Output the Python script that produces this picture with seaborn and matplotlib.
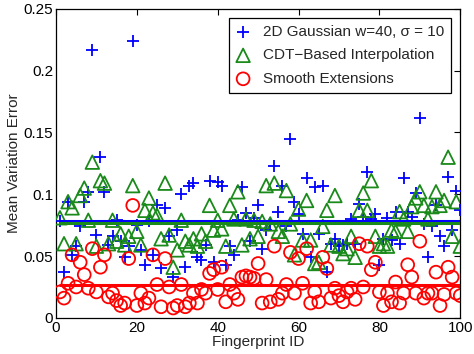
import numpy as np
import pandas as pd
import matplotlib
matplotlib.use("Agg")
import matplotlib.pyplot as plt
import seaborn as sns
from matplotlib.ticker import FuncFormatter

# Fingerprint IDs 1..100
fingerprint_id = list(range(1, 101))

gaussian_err = [
    0.078, 0.037, 0.094, 0.051, 0.058, 0.074, 0.094, 0.102, 0.217, 0.067,
    0.130, 0.102, 0.059, 0.066, 0.079, 0.062, 0.049, 0.058, 0.224, 0.075,
    0.055, 0.043, 0.078, 0.051, 0.091, 0.040, 0.089, 0.066, 0.033, 0.071,
    0.100, 0.041, 0.107, 0.109, 0.049, 0.047, 0.059, 0.111, 0.045, 0.110,
    0.107, 0.043, 0.058, 0.051, 0.079, 0.106, 0.085, 0.062, 0.081, 0.091,
    0.056, 0.071, 0.076, 0.123, 0.086, 0.107, 0.074, 0.145, 0.094, 0.084,
    0.068, 0.113, 0.049, 0.106, 0.068, 0.107, 0.037, 0.060, 0.064, 0.058,
    0.059, 0.060, 0.080, 0.060, 0.092, 0.082, 0.118, 0.080, 0.084, 0.043,
    0.064, 0.081, 0.063, 0.086, 0.060, 0.113, 0.086, 0.082, 0.101, 0.162,
    0.076, 0.049, 0.074, 0.091, 0.066, 0.058, 0.114, 0.071, 0.103, 0.087,
]

cdt_err = [
    0.081, 0.060, 0.094, 0.089, 0.060, 0.099, 0.105, 0.079, 0.126, 0.058,
    0.111, 0.109, 0.060, 0.079, 0.062, 0.068, 0.059, 0.066, 0.107, 0.070,
    0.059, 0.087, 0.097, 0.085, 0.083, 0.064, 0.109, 0.067, 0.041, 0.055,
    0.079, 0.062, 0.059, 0.064, 0.058, 0.068, 0.062, 0.091, 0.071, 0.079,
    0.072, 0.058, 0.091, 0.080, 0.102, 0.059, 0.080, 0.064, 0.079, 0.066,
    0.078, 0.107, 0.076, 0.109, 0.070, 0.066, 0.103, 0.076, 0.051, 0.088,
    0.063, 0.095, 0.063, 0.044, 0.045, 0.074, 0.087, 0.059, 0.099, 0.058,
    0.052, 0.056, 0.066, 0.049, 0.087, 0.101, 0.087, 0.111, 0.066, 0.058,
    0.060, 0.058, 0.071, 0.070, 0.086, 0.080, 0.070, 0.090, 0.097, 0.102,
    0.091, 0.080, 0.090, 0.102, 0.091, 0.095, 0.130, 0.066, 0.094, 0.058,
]

smooth_err = [
    0.021, 0.016, 0.028, 0.051, 0.025, 0.045, 0.035, 0.024, 0.056, 0.021,
    0.041, 0.051, 0.017, 0.020, 0.014, 0.010, 0.012, 0.048, 0.091, 0.010,
    0.020, 0.012, 0.016, 0.051, 0.027, 0.009, 0.048, 0.025, 0.008, 0.010,
    0.027, 0.009, 0.012, 0.020, 0.012, 0.023, 0.020, 0.036, 0.039, 0.023,
    0.041, 0.013, 0.027, 0.020, 0.015, 0.033, 0.034, 0.033, 0.032, 0.044,
    0.012, 0.031, 0.013, 0.058, 0.015, 0.020, 0.027, 0.053, 0.020, 0.048,
    0.028, 0.056, 0.012, 0.021, 0.013, 0.049, 0.040, 0.016, 0.024, 0.018,
    0.013, 0.021, 0.024, 0.015, 0.060, 0.025, 0.058, 0.039, 0.045, 0.021,
    0.010, 0.020, 0.013, 0.029, 0.012, 0.020, 0.043, 0.033, 0.020, 0.062,
    0.016, 0.020, 0.020, 0.037, 0.010, 0.019, 0.041, 0.033, 0.020, 0.018,
]

# mean levels
mean_levels = [0.0785, 0.0765, 0.0265]

labels = ["2D Gaussian w=40, \u03c3 = 10", "CDT\u2212Based Interpolation", "Smooth Extensions"]
colors = ["#0000ff", "#1a8a1a", "#ff0000"]
markers = ["+", "^", "o"]
sizes = [75, 95, 85]

sns.set_style("white")
plt.rcParams["font.family"] = ["Liberation Sans", "DejaVu Sans"]
plt.rcParams["font.size"] = 11

fig = plt.figure(figsize=(4.74, 3.54), dpi=100)
ax = fig.add_axes([0.118, 0.102, 0.853, 0.873])

series = [gaussian_err, cdt_err, smooth_err]
for vals, lab, col, mk, sz in zip(series, labels, colors, markers, sizes):
    df = pd.DataFrame({"id": fingerprint_id, "err": vals})
    if mk == "+":
        sns.scatterplot(data=df, x="id", y="err", marker="+", s=sz, color=col,
                        linewidth=1.3, ax=ax, label=lab, zorder=3)
    else:
        sns.scatterplot(data=df, x="id", y="err", marker=mk, s=sz,
                        facecolors="none", edgecolor=col, linewidth=1.3, ax=ax,
                        label=lab, zorder=3)

for lvl, col in zip(mean_levels, colors):
    line = pd.DataFrame({"id": [fingerprint_id[0], fingerprint_id[-1]], "err": [lvl, lvl]})
    sns.lineplot(data=line, x="id", y="err", color=col, linewidth=2.2, ax=ax, zorder=4)

ax.set_xlim(0, 100)
ax.set_ylim(0, 0.25)
ax.set_xticks([0, 20, 40, 60, 80, 100])
ax.set_yticks([0, 0.05, 0.1, 0.15, 0.2, 0.25])
ax.yaxis.set_major_formatter(FuncFormatter(lambda v, p: "%g" % round(v, 3)))
ax.set_xlabel("Fingerprint ID", fontsize=11, labelpad=0)
ax.set_ylabel("Mean Variation Error", fontsize=11, labelpad=2)
ax.tick_params(direction="in", top=True, right=True, length=4, width=0.8,
               labelsize=11, pad=2, colors="black")
for sp in ax.spines.values():
    sp.set_color("black")
    sp.set_linewidth(0.9)

leg = ax.legend(loc="upper right", frameon=True, fancybox=False, framealpha=1,
                edgecolor="black", fontsize=11, handlelength=1.0, handletextpad=0.8,
                labelspacing=0.62, borderpad=0.45, borderaxespad=0.6)
leg.get_frame().set_linewidth(0.9)

fig.savefig("out.png", dpi=100)
